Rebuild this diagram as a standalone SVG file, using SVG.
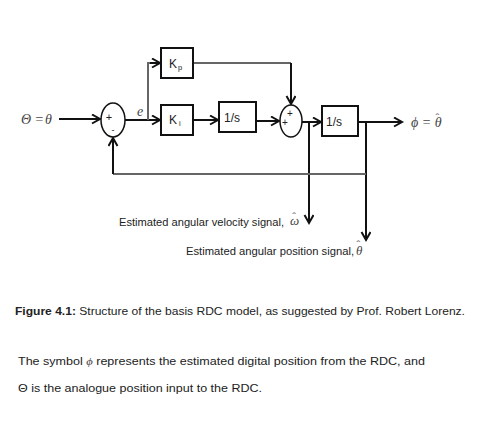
<svg xmlns="http://www.w3.org/2000/svg" width="498" height="422" viewBox="0 0 498 422">
<defs>
<marker id="arr" markerUnits="userSpaceOnUse" markerWidth="12" markerHeight="12" refX="9" refY="5" orient="auto">
<path d="M1,0.5 L9,5 L1,9.5" fill="none" stroke="#111" stroke-width="2"/>
</marker>
</defs>
<style>
.ln{fill:none;stroke:#111;stroke-width:2}
.gl{fill:none;stroke:#666;stroke-width:2}
.bx{fill:#fff;stroke:#111;stroke-width:2}
.sm{fill:#fff;stroke:#111;stroke-width:1.5}
.t{font-family:"Liberation Sans",Arial,sans-serif;fill:#222}
.m{font-family:"Liberation Serif","Times New Roman",serif;font-style:italic;fill:#444}
.h{font-style:normal}
</style>
<rect width="498" height="422" fill="#fff"/>
<g id="connectors">
<path class="ln" d="M59,119 H100" marker-end="url(#arr)"/>
<path class="ln" d="M125,120 H160" marker-end="url(#arr)"/>
<path class="gl" d="M148,120 V63 H160"/>
<path class="ln" d="M150,63 H160" marker-end="url(#arr)"/>
<path class="ln" d="M193,120 H218" marker-end="url(#arr)"/>
<path class="gl" d="M193,63 H291"/>
<path class="ln" d="M291,63 V104" marker-end="url(#arr)"/>
<path class="ln" d="M256,121 H279" marker-end="url(#arr)"/>
<path class="ln" d="M302,122 H321" marker-end="url(#arr)"/>
<path class="ln" d="M309,122 V223" marker-end="url(#arr)"/>
<path class="ln" d="M358,122 H402" marker-end="url(#arr)"/>
<path class="ln" d="M366,122 V240" marker-end="url(#arr)"/>
<path class="gl" d="M366,174 H113"/>
<path class="ln" d="M113,174 V138" marker-end="url(#arr)"/>
</g>
<g id="input"><text class="m" x="21" y="124" font-size="14">Θ =<tspan dx="1">θ</tspan></text></g>
<g id="sum1">
<ellipse class="sm" cx="113" cy="120" rx="12" ry="17"/>
<text class="t" x="109" y="121" font-size="11" text-anchor="middle">+</text>
<text class="t" x="113" y="133" font-size="9" text-anchor="middle">-</text>
</g>
<g id="e"><text class="m" x="137" y="116" font-size="14">e</text></g>
<g id="kp">
<rect class="bx" x="161" y="48" width="32" height="30"/>
<text class="t" x="169" y="68" font-size="12">K<tspan font-size="7.5" dx="1" dy="2">p</tspan></text>
</g>
<g id="ki">
<rect class="bx" x="161" y="105" width="32" height="30"/>
<text class="t" x="169" y="124" font-size="12">K<tspan font-size="7.5" dx="2" dy="2">i</tspan></text>
</g>
<g id="int1">
<rect class="bx" x="219" y="102" width="37" height="30"/>
<text class="t" x="224" y="122" font-size="12">1/s</text>
</g>
<g id="sum2">
<ellipse class="sm" cx="291" cy="121" rx="11" ry="16"/>
<text class="t" x="290" y="117" font-size="10" text-anchor="middle">+</text>
<text class="t" x="285" y="126" font-size="10" text-anchor="middle">+</text>
</g>
<g id="int2">
<rect class="bx" x="322" y="106" width="36" height="30"/>
<text class="t" x="326" y="126" font-size="12">1/s</text>
</g>
<g id="output">
<text class="m" x="411" y="127" font-size="14">ϕ = θ<tspan class="h" font-size="11" dx="-6" dy="-6">ˆ</tspan></text>
</g>
<g id="vel">
<text class="t" x="119" y="226" font-size="10" textLength="165" lengthAdjust="spacingAndGlyphs">Estimated angular velocity signal,</text>
<text class="m" x="290" y="225" font-size="13">ω<tspan class="h" font-size="11" dx="-7" dy="-5">ˆ</tspan></text>
</g>
<g id="pos">
<text class="t" x="186" y="255" font-size="10" textLength="168" lengthAdjust="spacingAndGlyphs">Estimated angular position signal,</text>
<text class="m" x="356" y="255" font-size="13">θ<tspan class="h" font-size="11" dx="-6" dy="-7">ˆ</tspan></text>
</g>
<g id="caption">
<text class="t" x="15" y="315" font-size="10.5" textLength="450" lengthAdjust="spacingAndGlyphs"><tspan font-weight="bold">Figure 4.1:</tspan>  Structure of the basis RDC model, as suggested by Prof. Robert Lorenz.</text>
<text class="t" x="18" y="365" font-size="10.5" textLength="407" lengthAdjust="spacingAndGlyphs">The symbol <tspan class="m">ϕ</tspan> represents the estimated digital position from the RDC, and</text>
<text class="t" x="18" y="392" font-size="10.5" textLength="244" lengthAdjust="spacingAndGlyphs">Θ  is the analogue position input to the RDC.</text>
</g>
</svg>
